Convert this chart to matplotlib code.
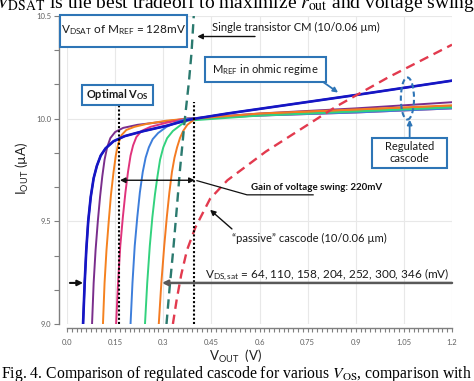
import matplotlib
matplotlib.use('Agg')
import matplotlib.pyplot as plt
from matplotlib.patches import Ellipse, Rectangle
from matplotlib.ticker import MultipleLocator

plt.rcParams['font.family'] = ['Lato', 'DejaVu Sans']
plt.rcParams['mathtext.fontset'] = 'custom'
plt.rcParams['mathtext.rm'] = 'Lato'
plt.rcParams['mathtext.it'] = 'Lato:italic'
plt.rcParams['mathtext.bf'] = 'Lato:bold'

# regulated cascode, V_DS,sat = 64 ... 346 mV (V_OUT in V, I_OUT in uA)
v_64 = [0.050, 0.055, 0.060, 0.066, 0.074, 0.083, 0.093, 0.105, 0.120, 0.145, 0.180, 0.240, 0.310, 0.380, 0.500, 0.700, 0.900, 1.200]
i_64 = [9.00, 9.20, 9.36, 9.50, 9.62, 9.71, 9.77, 9.82, 9.855, 9.89, 9.915, 9.94, 9.965, 9.995, 10.025, 10.07, 10.115, 10.185]
v_110 = [0.078, 0.083, 0.089, 0.096, 0.103, 0.110, 0.117, 0.125, 0.135, 0.150, 0.175, 0.220, 0.300, 0.375, 0.600, 0.900, 1.200]
i_110 = [9.00, 9.20, 9.36, 9.50, 9.62, 9.72, 9.80, 9.86, 9.905, 9.935, 9.955, 9.97, 9.985, 10.0, 10.025, 10.05, 10.08]
v_158 = [0.112, 0.117, 0.123, 0.130, 0.137, 0.145, 0.152, 0.160, 0.170, 0.185, 0.210, 0.250, 0.310, 0.375, 0.600, 0.900, 1.200]
i_158 = [9.00, 9.20, 9.36, 9.50, 9.63, 9.74, 9.82, 9.88, 9.92, 9.945, 9.96, 9.975, 9.99, 10.0, 10.02, 10.04, 10.06]
v_204 = [0.153, 0.159, 0.166, 0.174, 0.182, 0.190, 0.198, 0.206, 0.216, 0.232, 0.260, 0.310, 0.375, 0.600, 0.900, 1.200]
i_204 = [9.00, 9.20, 9.38, 9.52, 9.64, 9.74, 9.82, 9.87, 9.91, 9.94, 9.96, 9.98, 10.0, 10.015, 10.03, 10.05]
v_252 = [0.198, 0.204, 0.211, 0.219, 0.227, 0.236, 0.245, 0.255, 0.267, 0.284, 0.310, 0.345, 0.375, 0.600, 0.900, 1.200]
i_252 = [9.00, 9.20, 9.38, 9.52, 9.64, 9.74, 9.81, 9.86, 9.90, 9.93, 9.96, 9.985, 10.0, 10.015, 10.03, 10.05]
v_300 = [0.243, 0.250, 0.258, 0.266, 0.274, 0.282, 0.290, 0.300, 0.312, 0.330, 0.355, 0.375, 0.600, 0.900, 1.200]
i_300 = [9.00, 9.20, 9.38, 9.52, 9.63, 9.72, 9.80, 9.86, 9.905, 9.94, 9.97, 9.99, 10.015, 10.035, 10.055]
v_346 = [0.286, 0.294, 0.303, 0.311, 0.319, 0.327, 0.335, 0.343, 0.352, 0.362, 0.375, 0.400, 0.600, 0.900, 1.200]
i_346 = [9.00, 9.20, 9.38, 9.52, 9.64, 9.74, 9.81, 9.86, 9.905, 9.94, 9.97, 10.0, 10.025, 10.045, 10.065]

# single transistor CM (10/0.06 um)
v_single = [0.310, 0.320, 0.331, 0.342, 0.352, 0.360, 0.366, 0.373, 0.380, 0.388, 0.395]
i_single = [9.00, 9.18, 9.36, 9.56, 9.75, 9.88, 9.98, 10.08, 10.18, 10.32, 10.50]
# "passive" cascode (10/0.06 um)
v_passiv = [0.330, 0.342, 0.356, 0.374, 0.400, 0.446, 0.500, 0.560, 0.620, 0.700, 0.840, 1.000, 1.200]
i_passiv = [9.00, 9.12, 9.24, 9.36, 9.47, 9.61, 9.70, 9.77, 9.84, 9.92, 10.06, 10.20, 10.36]

kurven = [(v_64, i_64), (v_110, i_110), (v_158, i_158), (v_204, i_204),
          (v_252, i_252), (v_300, i_300), (v_346, i_346)]
farben = ['#1616C4', '#7A2E8C', '#F5821F', '#E0337C', '#3D7EDB', '#33D27E', '#F47B22']
xticks = [0.0, 0.15, 0.3, 0.45, 0.6, 0.75, 0.9, 1.05, 1.2]
xlabels = ['0.0', '0.15', '0.3', '0.45', '0.6', '0.75', '0.9', '1.05', '1.2']
yticks = [9.0, 9.5, 10.0, 10.5]

blau = '#2E75B6'

fig = plt.figure(figsize=(4.74, 3.81), dpi=100)
ax = fig.add_axes([0.1414, 0.1496, 0.8122, 0.8085])

for (v, i), f in zip(kurven, farben):
    ax.plot(v, i, color=f, lw=1.4, zorder=3)
ax.plot(v_64, i_64, color=farben[0], lw=1.9, zorder=4)
ax.plot(v_single, i_single, color='#2B7A6F', lw=1.7, ls=(0, (4, 2.5)), zorder=5)
ax.plot(v_passiv, i_passiv, color='#E23A4E', lw=1.7, ls=(0, (4, 2.5)), zorder=5)

ax.set_xlim(0, 1.2)
ax.set_ylim(9.0, 10.5)
ax.set_xticks(xticks)
ax.set_xticklabels(xlabels)
ax.set_yticks(yticks)
ax.xaxis.set_minor_locator(MultipleLocator(0.015))
ax.yaxis.set_minor_locator(MultipleLocator(0.5 / 3))
ax.grid(True, which='major', color='#E8E8E8', lw=0.8, zorder=0)
for s in ['top', 'right']:
    ax.spines[s].set_visible(False)
ax.spines['left'].set_position(('outward', 5.8))
ax.spines['bottom'].set_position(('outward', 3))
for s in ['left', 'bottom']:
    ax.spines[s].set_color('#7F7F7F')
    ax.spines[s].set_linewidth(1.0)
ax.tick_params(axis='both', which='both', colors='#7F7F7F', labelcolor='#606060', labelsize=5.5, width=0.8)
ax.tick_params(axis='y', which='both', length=3.6, pad=2)
ax.tick_params(axis='x', which='both', length=3, pad=5)

fig.text(22 / 474, 1 - 168 / 381, r'I$_{\mathrm{OUT}}$ (µA)', rotation=90, fontsize=9.5,
         ha='center', va='center', color='#202020')
fig.text(0.497, 1 - 356 / 381, r'V$_{\mathrm{OUT}}$  (V)', fontsize=9.5, ha='center', va='center', color='#202020')

# Kästen
def kasten(x0, x1, y0, y1, text, **kw):
    ax.add_patch(Rectangle((x0, y0), x1 - x0, y1 - y0, fill=True, fc='white', ec=blau,
                           lw=1.5, zorder=8, clip_on=False))
    ax.text((x0 + x1) / 2, (y0 + y1) / 2, text, ha='center', va='center', zorder=9,
            color='#1A1A1A', **kw)

kasten(-0.022, 0.374, 10.351, 10.507, r'V$_{\mathrm{DSAT}}$ of M$_{\mathrm{REF}}$ = 128mV', fontsize=8.5)
kasten(0.047, 0.268, 10.068, 10.166, r'Optimal V$_{\mathbf{OS}}$', fontsize=8, fontweight='bold')
kasten(0.430, 0.807, 10.180, 10.302, r'M$_{\mathrm{REF}}$ in ohmic regime', fontsize=8)
kasten(0.951, 1.185, 9.761, 9.907, 'Regulated\ncascode', fontsize=8, linespacing=1.15)

ax.add_patch(Ellipse((1.061, 10.098), 0.041, 0.205, fill=False, ec=blau, lw=1.5, ls=(0, (2.5, 1.5)), zorder=7))
pfeil_blau = dict(arrowstyle='-|>', color=blau, lw=1.3, mutation_scale=7, shrinkA=0, shrinkB=0)
ax.annotate('', xy=(1.068, 9.995), xytext=(1.068, 9.907), arrowprops=pfeil_blau, zorder=7)
ax.annotate('', xy=(0.845, 10.127), xytext=(0.795, 10.182), arrowprops=pfeil_blau, zorder=7)

pfeil = dict(arrowstyle='-|>', color='#111111', lw=1.0, mutation_scale=8, shrinkA=0, shrinkB=0)
ax.text(0.452, 10.444, 'Single transistor CM (10/0.06 µm)', fontsize=8, va='center', color='#1A1A1A')
ax.annotate('', xy=(0.406, 10.40), xytext=(0.586, 10.40), arrowprops=pfeil, zorder=7)

# Optimal V_OS und Spannungshub
ax.plot([0.162, 0.162], [9.0, 10.06], color='black', lw=1.5, ls=(0, (1, 1)), zorder=6)
ax.plot([0.396, 0.396], [9.0, 10.083], color='black', lw=1.5, ls=(0, (1, 1)), zorder=6)
ax.annotate('', xy=(0.165, 9.70), xytext=(0.398, 9.70),
            arrowprops=dict(arrowstyle='<|-|>', color='#111111', lw=1.0, mutation_scale=8, shrinkA=0, shrinkB=0), zorder=7)
ax.plot([0.405, 0.561, 0.767], [9.698, 9.629, 9.629], color='#111111', lw=0.9, zorder=7)
ax.text(0.575, 9.665, 'Gain of voltage swing: 220mV', fontsize=7, fontweight='bold', va='center', color='#111111')

ax.text(0.514, 9.415, '“passive” cascode (10/0.06 µm)', fontsize=8, va='center', color='#1A1A1A')
ax.annotate('', xy=(0.446, 9.556), xytext=(0.514, 9.463), arrowprops=pfeil, zorder=7)

ax.text(0.430, 9.239, r'V$_{\mathrm{DS,sat}}$ = 64, 110, 158, 204, 252, 300, 346 (mV)', fontsize=8.5,
        va='center', color='#1A1A1A')
ax.annotate('', xy=(0.296, 9.2), xytext=(1.2, 9.2),
            arrowprops=dict(arrowstyle='-|>', color='#595959', lw=1.8, mutation_scale=8, shrinkA=0, shrinkB=0),
            zorder=7, annotation_clip=False)
ax.annotate('', xy=(0.050, 9.2), xytext=(0.009, 9.2),
            arrowprops=dict(arrowstyle='-|>', color='#111111', lw=1.5, mutation_scale=8, shrinkA=0, shrinkB=0),
            zorder=7)

# Bildunterschrift (Ausschnitt aus dem Paper)
fig.text(-0.008, 1 - 8 / 381, r'$V_{\rm DSAT}$ is the best tradeoff to maximize $r_{\rm out}$ and voltage swing.',
         fontsize=14, family='Liberation Serif', math_fontfamily='stix', va='baseline', ha='left')
fig.text(0.003, 1 - 378 / 381, r'Fig. 4. Comparison of regulated cascode for various $V_{\rm OS}$, comparison with',
         fontsize=11.3, family='Liberation Serif', math_fontfamily='stix', va='baseline', ha='left')

fig.savefig('out.png', dpi=100)
